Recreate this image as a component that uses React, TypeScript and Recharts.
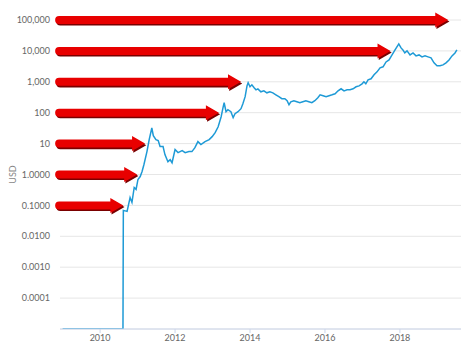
import { LineChart, Line, XAxis, YAxis, CartesianGrid, ReferenceLine } from 'recharts';

// decimal years
const dates = [
  2009.0, 2010.61, 2010.62, 2010.72, 2010.8, 2010.85, 2010.91, 2010.96, 2011.01, 2011.07,
  2011.12, 2011.17, 2011.25, 2011.31, 2011.38, 2011.42, 2011.49, 2011.55, 2011.6, 2011.68,
  2011.73, 2011.81, 2011.87, 2011.92, 2012.0, 2012.08, 2012.19, 2012.27, 2012.37, 2012.45,
  2012.53, 2012.61, 2012.69, 2012.8, 2012.91, 2012.99, 2013.07, 2013.15, 2013.23, 2013.28,
  2013.31, 2013.36, 2013.41, 2013.49, 2013.55, 2013.6, 2013.68, 2013.76, 2013.81, 2013.87,
  2013.92, 2013.95, 2014.0, 2014.05, 2014.11, 2014.16, 2014.21, 2014.29, 2014.37, 2014.45,
  2014.53, 2014.61, 2014.69, 2014.77, 2014.85, 2014.93, 2014.99, 2015.04, 2015.09, 2015.17,
  2015.25, 2015.33, 2015.41, 2015.49, 2015.57, 2015.65, 2015.73, 2015.81, 2015.87, 2015.95,
  2016.03, 2016.11, 2016.19, 2016.27, 2016.35, 2016.43, 2016.51, 2016.59, 2016.67, 2016.75,
  2016.83, 2016.91, 2016.99, 2017.04, 2017.09, 2017.15, 2017.23, 2017.31, 2017.39, 2017.47,
  2017.55, 2017.63, 2017.71, 2017.79, 2017.87, 2017.92, 2017.97, 2018.03, 2018.08, 2018.13,
  2018.19, 2018.27, 2018.35, 2018.43, 2018.51, 2018.59, 2018.67, 2018.75, 2018.83, 2018.91,
  2018.99, 2019.07, 2019.15, 2019.23, 2019.31, 2019.39, 2019.47, 2019.52,
];

const prices = [
  0.00001, 0.00001, 0.069, 0.064, 0.18, 0.125, 0.38, 0.33, 0.69, 0.86,
  1.25, 2.1, 5.5, 13.5, 32, 18, 13.5, 12.5, 8, 8,
  4.4, 2.6, 3.0, 2.4, 6.4, 5.1, 5.9, 5.1, 5.5, 5.5,
  7.4, 11.6, 9.3, 11.6, 13.5, 16.8, 22.6, 35, 74, 145,
  210, 108, 125, 108, 69, 93, 108, 135, 195, 330,
  740, 930, 690, 800, 640, 550, 590, 475, 510, 440,
  475, 440, 380, 330, 283, 283, 244, 181, 226, 244,
  226, 210, 226, 244, 226, 210, 244, 305, 380, 355,
  330, 355, 380, 410, 510, 595, 510, 550, 550, 595,
  690, 740, 860, 1000, 860, 1160, 1250, 1680, 2100, 2830,
  3050, 4400, 5100, 7400, 10800, 13500, 16800, 12500, 10800, 8600,
  10000, 7400, 8600, 6900, 7400, 6400, 6900, 6400, 5950, 4100,
  3300, 3300, 3530, 4100, 5100, 6900, 8600, 10800,
];

const yTicks = [0.0001, 0.001, 0.01, 0.1, 1, 10, 100, 1000, 10000, 100000];
const xTicks = [2010, 2012, 2014, 2016, 2018];

// red annotation arrows: level and where the tip points
const arrowLevels = [100000, 10000, 1000, 100, 10, 1, 0.1];
const arrowTips = [2019.29, 2017.75, 2013.76, 2013.17, 2011.2, 2010.99, 2010.62];
const arrowStart = 2008.8;

const data = dates.map((d, i) => ({ date: d, price: prices[i] }));

const fmtY = (v: number) => (v >= 10 ? v.toLocaleString('en-US') : v.toFixed(4));

function Arrow(props: any) {
  const { x1, y1, x2 } = props;
  const head = 13;
  const half = 4;
  const hh = 7.5;
  const bx = x2 - head;
  const d = `M ${x1 + half} ${y1 - half} L ${bx} ${y1 - half} L ${bx} ${y1 - hh} L ${x2} ${y1} L ${bx} ${y1 + hh} L ${bx} ${y1 + half} L ${x1 + half} ${y1 + half} A ${half} ${half} 0 0 1 ${x1 + half} ${y1 - half} Z`;
  return (
    <g>
      <path d={d} fill="#7a0000" transform="translate(1.2,1.6)" />
      <path d={d} fill="#e80000" />
    </g>
  );
}

export default function App() {
  return (
    <LineChart
      width={458}
      height={336}
      data={data}
      margin={{ top: 12, right: 5, left: 0, bottom: 0 }}
      style={{ fontFamily: 'Lato, sans-serif' }}
    >
      <CartesianGrid vertical={false} stroke="#e6e6e6" />
      <XAxis
        dataKey="date"
        type="number"
        domain={[2008.93, 2019.63]}
        ticks={xTicks}
        allowDataOverflow
        height={15}
        tick={{ fontSize: 9, fill: '#666' }}
        axisLine={{ stroke: '#ccd6eb' }}
        tickLine={{ stroke: '#ccd6eb' }}
        tickSize={4}
        tickMargin={2}
      />
      <YAxis
        scale="log"
        domain={[0.00001, 100000]}
        ticks={yTicks}
        allowDataOverflow
        width={52}
        axisLine={false}
        tickLine={false}
        tickMargin={4}
        tickFormatter={fmtY}
        tick={{ fontSize: 9, fill: '#666' }}
        label={{
          value: 'USD',
          angle: -90,
          position: 'insideLeft',
          style: { textAnchor: 'middle', fontSize: 9, fill: '#888' },
        }}
      />
      <Line
        type="linear"
        dataKey="price"
        stroke="#1e9ad6"
        strokeWidth={1.5}
        dot={false}
        isAnimationActive={false}
      />
      {arrowLevels.map((lvl, i) => (
        <ReferenceLine
          key={lvl}
          ifOverflow="visible"
          segment={[
            { x: arrowStart, y: lvl },
            { x: arrowTips[i], y: lvl },
          ]}
          shape={(p: any) => <Arrow {...p} />}
        />
      ))}
    </LineChart>
  );
}
